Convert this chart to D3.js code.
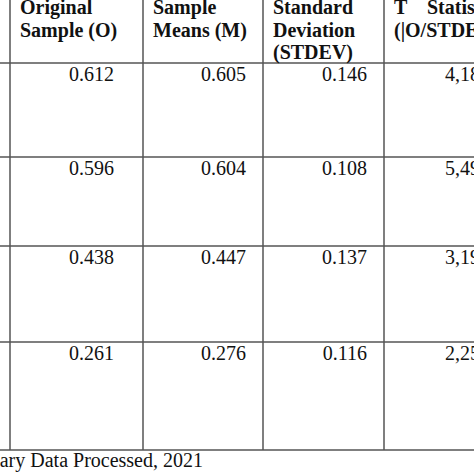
<!DOCTYPE html>
<html><head><meta charset="utf-8">
<script src="https://cdn.jsdelivr.net/npm/d3@7"></script>
<style>body{margin:0;background:#fff}svg{display:block}</style></head>
<body><svg id="c" width="474" height="474"></svg>
<script>
const headers = [["Original","Sample (O)"],["Sample","Means (M)"],["Standard","Deviation","(STDEV)"],["T    Statistics","(|O/STDEV|)"]];
const original = ["0.612","0.596","0.438","0.261"];
const means = ["0.605","0.604","0.447","0.276"];
const stdev = ["0.146","0.108","0.137","0.116"];
const tstat = ["4,189","5,498","3,196","2,253"];
const footer = "Source: Primary Data Processed, 2021";

const svg = d3.select("#c");
const colX = [10,143,263,384];
const rowY = [63,157,246,342,450];
const font = "'Liberation Serif','Times New Roman',serif";
const stroke = "#555";

svg.selectAll("line.v").data(colX).join("line")
  .attr("x1",d=>d).attr("x2",d=>d).attr("y1",0).attr("y2",450)
  .attr("stroke",stroke).attr("stroke-width",1.5);
svg.selectAll("line.h").data(rowY).join("line")
  .attr("x1",0).attr("x2",474).attr("y1",d=>d).attr("y2",d=>d)
  .attr("stroke",stroke).attr("stroke-width",1.5);

headers.forEach((h,i)=>{
  const t = svg.append("text").attr("font-family",font).attr("font-weight","bold")
    .attr("font-size",20).attr("fill","#111");
  h.forEach((line,j)=>{
    t.append("tspan").attr("x",colX[i]+10).attr("y",14+j*22.5)
     .style("white-space","pre").text(line);
  });
});

const cols = [original,means,stdev,tstat];
const rightX = [114,246,367,490];
cols.forEach((col,i)=>{
  svg.selectAll(null).data(col).join("text")
    .attr("x",rightX[i]).attr("y",(d,r)=>rowY[r]+18)
    .attr("text-anchor","end").attr("font-family",font).attr("font-size",20).attr("fill","#111")
    .text(d=>d);
});

svg.append("text").attr("x",203).attr("y",467).attr("text-anchor","end")
  .attr("font-family",font).attr("font-size",20).attr("fill","#111").text(footer);
</script></body></html>
